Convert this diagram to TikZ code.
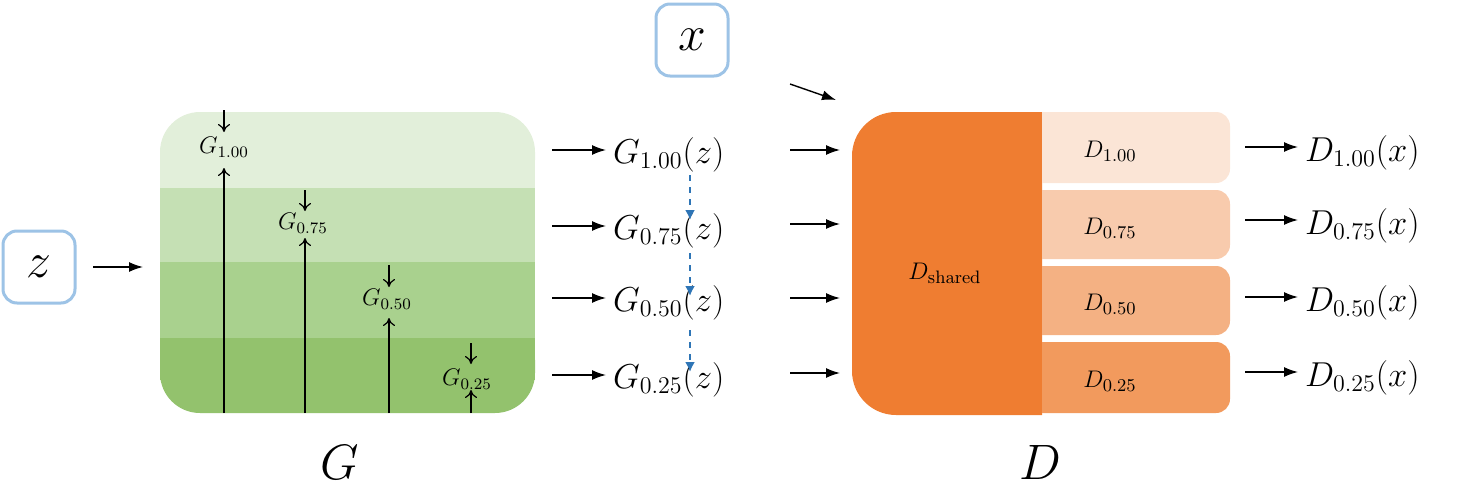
\documentclass[tikz,border=0pt]{standalone}
\usetikzlibrary{arrows.meta}
\begin{document}
\begin{tikzpicture}[x=0.5pt,y=-0.5pt,
  arr/.style={-{Latex[length=7pt,width=5pt]},line width=0.7pt},
  thin/.style={-{To[length=4pt,width=6pt]},line width=0.6pt},
  inbox/.style={draw=blue!30!cyan!40!gray!60,line width=1.5pt,rounded corners=7pt,fill=white,minimum width=36pt,minimum height=36pt,font=\fontsize{26}{30}\selectfont},
  outlab/.style={anchor=west,font=\fontsize{18.5}{22}\selectfont},
  small/.style={font=\fontsize{11.5}{14}\selectfont},
  big/.style={font=\fontsize{26}{30}\selectfont}]
\definecolor{g1}{HTML}{E2EFDA}\definecolor{g2}{HTML}{C5E0B4}
\definecolor{g3}{HTML}{A9D18E}\definecolor{g4}{HTML}{93C26D}
\definecolor{d0}{HTML}{EF7D31}\definecolor{d1}{HTML}{FBE5D6}
\definecolor{d2}{HTML}{F8CBAD}\definecolor{d3}{HTML}{F4B183}
\definecolor{d4}{HTML}{F29A5D}\definecolor{bl}{HTML}{2E75B6}
\definecolor{bx}{HTML}{9DC3E6}
\useasboundingbox (0,0) rectangle (1467,493);
% z and x boxes
\node[inbox,draw=bx] (z) at (39,267) {$z$};
\node[inbox,draw=bx] (x) at (692,40) {$x$};
% G block
\fill[g1,rounded corners=20pt] (160,112) rectangle (535,200);
\fill[g4,rounded corners=20pt] (160,320) rectangle (535,413);
\fill[g1] (160,150) rectangle (535,188);
\fill[g2] (160,188) rectangle (535,262);
\fill[g3] (160,262) rectangle (535,338);
\fill[g4] (160,338) rectangle (535,380);
\coordinate (gin) at (143,267);
\coordinate (zs) at (93,267);
\draw[arr] (zs) -- (gin);
% inner labels
\node[small] (l1) at (224,147) {$G_{1.00}$};
\node[small] (l2) at (303,223) {$G_{0.75}$};
\node[small] (l3) at (387,299) {$G_{0.50}$};
\node[small] (l4) at (467,379) {$G_{0.25}$};
\foreach \i/\xx/\ya in {1/224/110,2/305/190,3/389/265,4/471/343}{
  \coordinate (t\i) at (\xx,\ya);
  \coordinate (b\i) at (\xx,413);
}
\draw[thin] (t1) -- (224,132);
\draw[thin] (t2) -- (305,211);
\draw[thin] (t3) -- (389,287);
\draw[thin] (t4) -- (471,364);
\draw[thin] (b1) -- (224,168);
\draw[thin] (b2) -- (305,238);
\draw[thin] (b3) -- (389,318);
\draw[thin] (b4) -- (471,390);
% G outputs
\foreach \i/\yy/\s in {1/150/1.00,2/226/0.75,3/298/0.50,4/375/0.25}{
  \coordinate (ga\i) at (552,\yy);
  \node[outlab] (go\i) at (606,\yy+5) {$G_{\s}(z)$};
  \draw[arr] (ga\i) -- (go\i.west |- ga\i);
}
\foreach \ya/\yb in {175/220,253/296,330/372}{
  \draw[bl,dashed,line width=1pt,-{Latex[length=5pt,width=5pt]}] (690,\ya) -- (690,\yb);
}
% D block
\fill[d0] (1042,112) [rounded corners=22pt] -- (852,112) -- (852,415) [sharp corners] -- (1042,415) -- cycle;
\node[font=\fontsize{13}{15}\selectfont] (ds) at (945,273) {$D_{\mathrm{shared}}$};
\foreach \i/\ya/\yb/\c/\s in {1/112/183/d1/1.00,2/190/259/d2/0.75,3/266/335/d3/0.50,4/342/413/d4/0.25}{
  \fill[\c] (1042,\ya) [rounded corners=7pt] -- (1230,\ya) -- (1230,\yb) [sharp corners] -- (1042,\yb) -- cycle;
  \node[font=\fontsize{13}{15}\selectfont] (dd\i) at (1110,{(\ya+\yb)/2+4}) {$D_{\s}$};
}
\foreach \i/\yy in {1/150,2/224,3/298,4/373}{
  \coordinate (da\i) at (790,\yy);
  \draw[arr] (da\i) -- (840,\yy);
}
\coordinate (dg) at (790,84);
\draw[arr] (dg) -- (836,100);
\foreach \i/\yy in {1/147,2/220,3/297,4/372}{
  \coordinate (ea\i) at (1245,\yy);
  \node[outlab] (eo\i) at (1298,\yy+6) {$D_{\ifcase\i\or1.00\or0.75\or0.50\or0.25\fi}(x)$};
  \draw[arr] (ea\i) -- (eo\i.west |- ea\i);
}
\node[big] (G) at (340,462) {$G$};
\node[big] (D) at (1040,462) {$D$};
\end{tikzpicture}
\end{document}
